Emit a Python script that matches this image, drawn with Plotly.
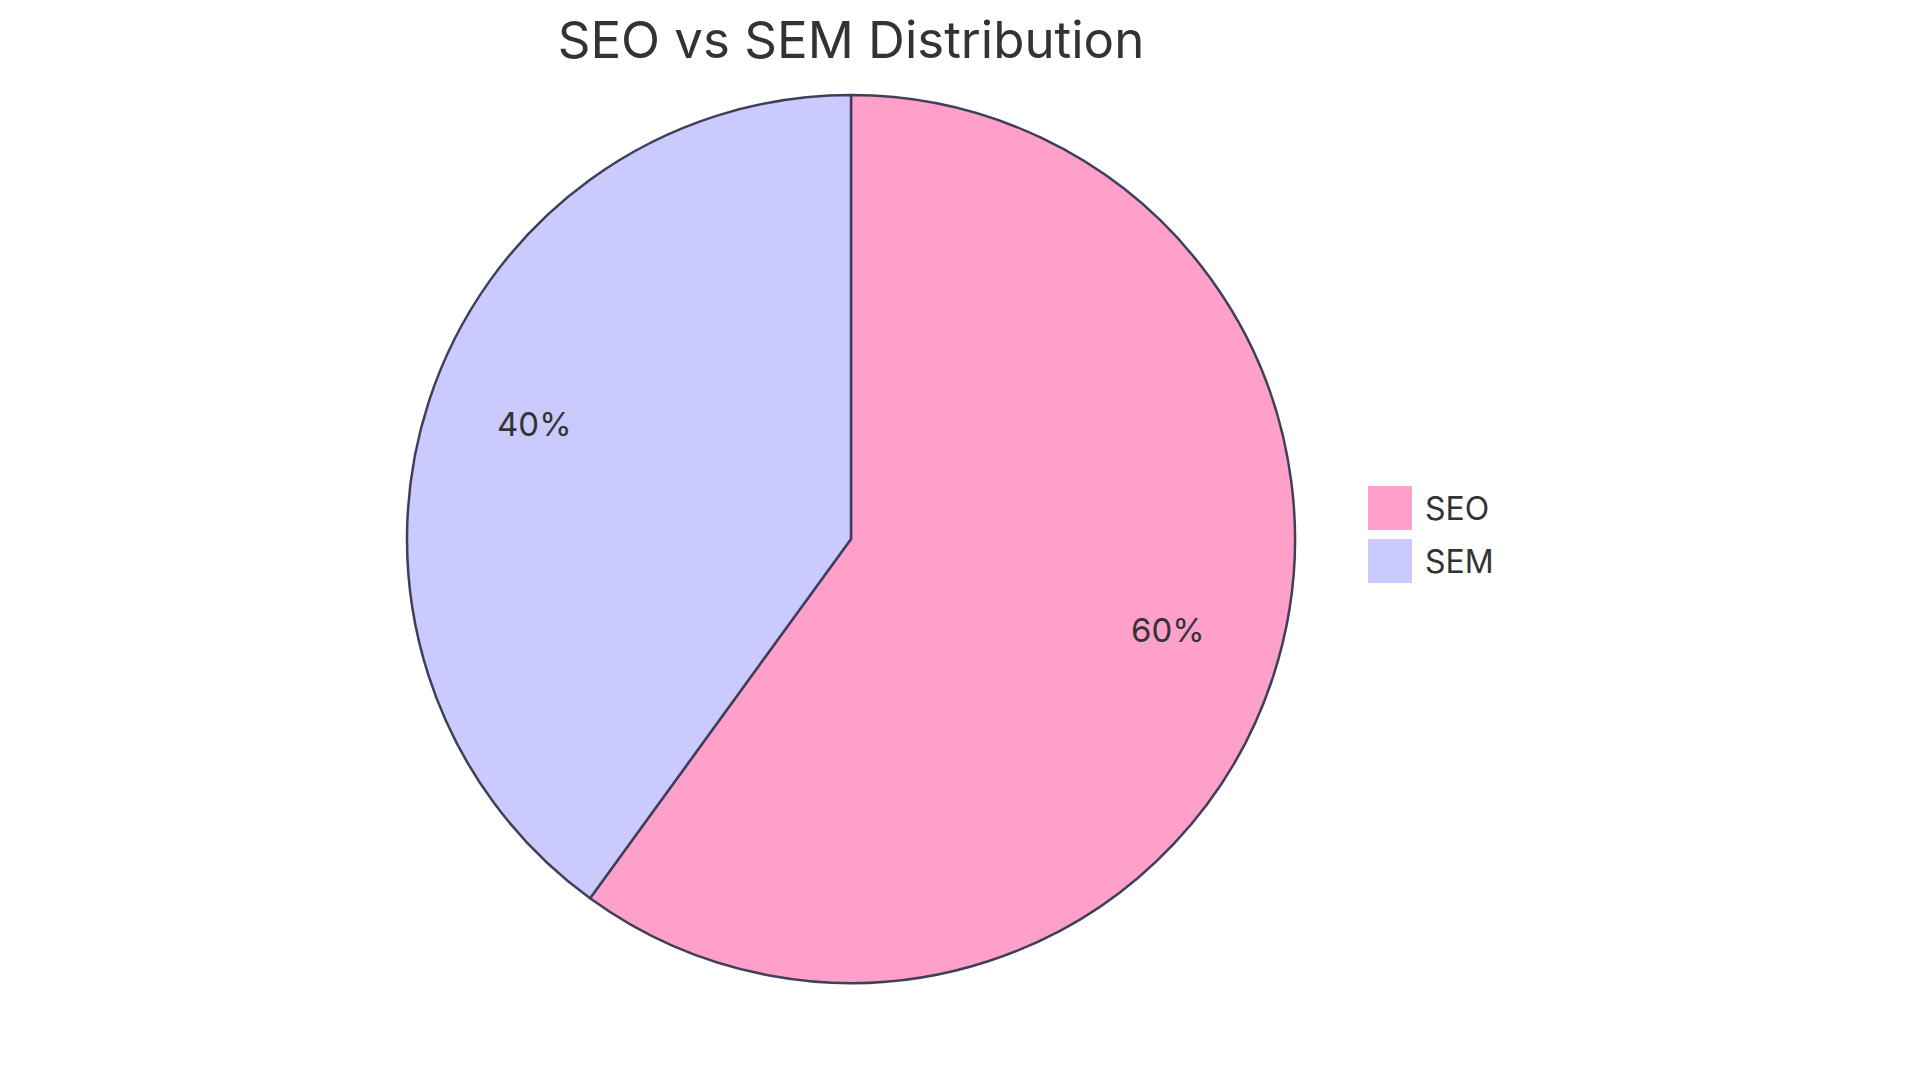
import math
import plotly.graph_objects as go

# data
labels = ["SEO", "SEM"]
values = [60, 40]
colors = ["#FFA0CB", "#CACAFF"]

W, H = 1920, 1080
font_family = "Inter, 'Noto Sans', sans-serif"
text_color = "#333333"

# pie geometry in figure pixels
cx, cy, R = 843, 531, 444

fig = go.Figure(go.Pie(
    labels=labels,
    values=values,
    sort=False,
    direction="clockwise",
    rotation=0,
    marker=dict(colors=colors, line=dict(color="#3F3F5A", width=2.5)),
    textinfo="none",
    hoverinfo="label+percent",
    showlegend=False,
    domain=dict(x=[(cx - R) / W, (cx + R) / W],
                y=[1 - (cy + R) / H, 1 - (cy - R) / H]),
))

annotations = []

# percent labels at 75% of radius, like the original
total = sum(values)
cum = 0
for v in values:
    mid = (cum + v / 2) / total * 2 * math.pi
    cum += v
    px = cx + 0.75 * R * math.sin(mid)
    py = cy - 0.75 * R * math.cos(mid)
    annotations.append(dict(
        text=f"{v / total:.0%}", xref="paper", yref="paper",
        x=px / W, y=1 - py / H, xanchor="center", yanchor="middle",
        yshift=12, showarrow=False,
        font=dict(family=font_family, size=33, color=text_color),
    ))

# legend drawn as big squares like the original
shapes = []
for i, (lab, col) in enumerate(zip(labels, colors)):
    top = 478 + i * 53
    shapes.append(dict(
        type="rect", xref="paper", yref="paper",
        x0=1360 / W, x1=1404 / W,
        y0=1 - (top + 44) / H, y1=1 - top / H,
        fillcolor=col, line=dict(width=0),
    ))
    annotations.append(dict(
        text=lab, xref="paper", yref="paper",
        x=1415 / W, y=1 - (top + 22) / H,
        xanchor="left", yanchor="middle", showarrow=False,
        font=dict(family=font_family, size=32, color=text_color),
    ))

fig.update_layout(
    width=W, height=H,
    title=dict(text="SEO vs SEM Distribution", x=cx / W, xanchor="center",
               y=1 - 32.5 / H, yanchor="middle",
               font=dict(family=font_family, size=51, color=text_color)),
    margin=dict(l=0, r=0, t=0, b=0),
    paper_bgcolor="white",
    shapes=shapes,
    annotations=annotations,
)

fig.write_html("out.html")
